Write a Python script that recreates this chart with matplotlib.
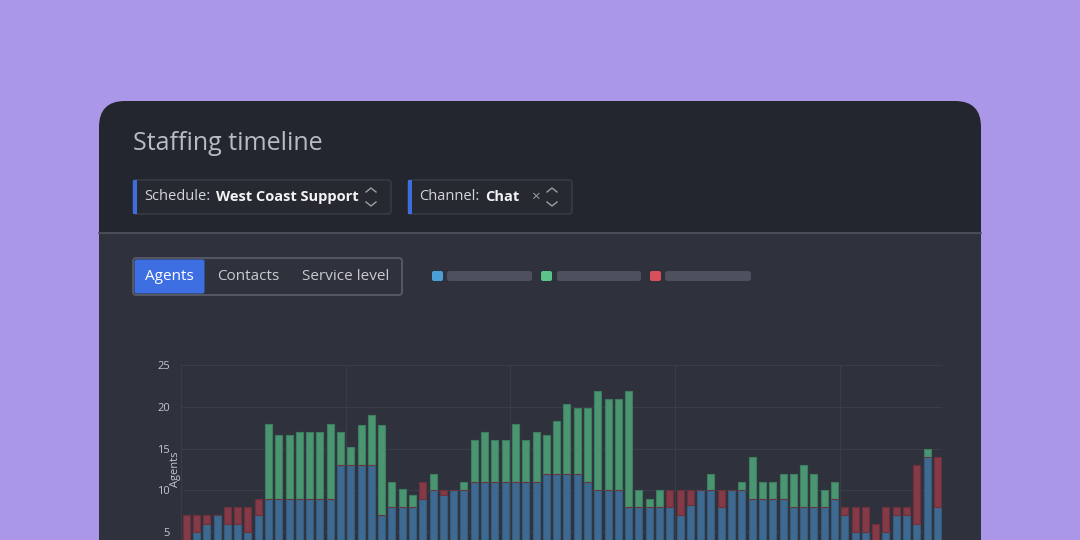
import matplotlib
matplotlib.use("Agg")
import matplotlib.pyplot as plt
from matplotlib.patches import FancyBboxPatch, Rectangle
import numpy as np

plt.rcParams['font.family'] = ['Open Sans', 'DejaVu Sans']

# ---- data ----
scheduled = [4, 5, 6, 7, 6, 6, 5, 7, 9, 9, 9, 9, 9, 9, 9, 13, 13, 13, 13, 7,
             8, 8, 8, 9, 10, 9.5, 10, 10, 11, 11, 11, 11, 11, 11, 11, 12, 12, 12, 12, 11,
             10, 10, 10, 8, 8, 8, 8, 8, 7, 8.3, 10, 10, 8, 10, 10, 9, 9, 9, 9, 8,
             8, 8, 8, 9, 7, 5, 5, 4, 5, 7, 7, 6, 14, 8]
surplus = [0, 0, 0, 0, 0, 0, 0, 0, 9, 7.6, 7.6, 8, 8, 8, 9, 4, 2.2, 4.8, 6, 10.8,
           3, 2.2, 1.4, 0, 2, 0, 0, 1, 5, 6, 5, 5, 7, 5, 6, 4.6, 6.3, 8.3, 7.9, 8.9,
           11.9, 10.9, 10.9, 13.9, 2, 1, 2, 0, 0, 0, 0, 2, 0, 0, 1, 5, 2, 2, 3, 4,
           5, 4, 2, 2, 0, 0, 0, 0, 0, 0, 0, 0, 0.9, 0]
shortage = [3, 2, 1, 0, 2, 2, 3, 2, 0, 0, 0, 0, 0, 0, 0, 0, 0, 0, 0, 0,
            0, 0, 0, 2, 0, 0.5, 0, 0, 0, 0, 0, 0, 0, 0, 0, 0, 0, 0, 0, 0,
            0, 0, 0, 0, 0, 0, 0, 2, 3, 1.7, 0, 0, 2, 0, 0, 0, 0, 0, 0, 0,
            0, 0, 0, 0, 1, 3, 3, 2, 3, 1, 1, 7, 0, 6]
yticks = [5, 10, 15, 20, 25]
tabs = ["Agents", "Contacts", "Service level"]

W, H = 1080, 540
fig = plt.figure(figsize=(10.8, 5.4), dpi=100)
fig.patch.set_facecolor('#ab97e8')

bg = fig.add_axes([0, 0, 1, 1])
bg.set_xlim(0, W); bg.set_ylim(H, 0); bg.axis('off')

# card
bg.add_patch(FancyBboxPatch((99, 101), 882, 560, boxstyle="round,pad=0,rounding_size=26",
                            fc='#23262e', ec='none'))
bg.add_patch(Rectangle((99, 233), 882, 400, fc='#2f323c', ec='none'))
bg.plot([99, 981], [233, 233], color='#50545e', lw=1.2)

bg.text(133, 144, "Staffing timeline", fontsize=18, color='#b8bbc4', va='center', ha='left')

def dropdown(x0, x1, label, value, close=False):
    bg.add_patch(FancyBboxPatch((x0, 180), x1 - x0, 34, boxstyle="round,pad=0,rounding_size=3",
                                fc='#262930', ec='#3b3e47', lw=1))
    bg.add_patch(Rectangle((x0, 180), 4, 34, fc='#3c6ee0', ec='none'))
    t = bg.text(x0 + 11, 197, label, fontsize=10.5, color='#d4d6dc', va='center')
    fig.canvas.draw()
    bb = t.get_window_extent()
    xe = bb.x1
    bg.text(xe + 6, 197, value, fontsize=10.5, color='#f2f3f5', va='center', fontweight='bold')
    cx = x1 - 20
    bg.plot([cx - 5, cx, cx + 5], [192, 188, 192], color='#9a9ea8', lw=1)
    bg.plot([cx - 5, cx, cx + 5], [202, 206, 202], color='#9a9ea8', lw=1)
    if close:
        bg.text(cx - 17, 197, "×", fontsize=11, color='#9a9ea8', va='center', ha='center')

dropdown(133, 391, "Schedule:", "West Coast Support")
dropdown(408, 572, "Channel:", "Chat", close=True)

# tabs
bg.add_patch(FancyBboxPatch((133, 258), 269, 37, boxstyle="round,pad=0,rounding_size=3",
                            fc='none', ec='#5b5f69', lw=1.2))
bg.add_patch(FancyBboxPatch((134.5, 259.5), 70, 34, boxstyle="round,pad=0,rounding_size=2",
                            fc='#3d6fe2', ec='none'))
for t, cx, c in zip(tabs, [169, 248, 346], ['#ffffff', '#c8cad0', '#c8cad0']):
    bg.text(cx, 276, t, fontsize=11, color=c, va='center', ha='center')

# legend placeholders
for sx, col, b0, b1 in [(432, '#4a9fd6', 447, 532), (541, '#5cc48a', 557, 641), (650, '#d9505c', 665, 751)]:
    bg.add_patch(FancyBboxPatch((sx, 271), 11, 10, boxstyle="round,pad=0,rounding_size=2", fc=col, ec='none'))
    bg.add_patch(FancyBboxPatch((b0, 271), b1 - b0, 10, boxstyle="round,pad=0,rounding_size=2.5", fc='#4e515d', ec='none'))

# chart axes
left, right, top, zero = 181, 942, 365, 574
ax = fig.add_axes([left / W, (H - zero) / H, (right - left) / W, (zero - top) / H])
ax.set_facecolor('none')
n = len(scheduled)
x = np.arange(n)
sch = np.array(scheduled); sur = np.array(surplus); sho = np.array(shortage)
ax.bar(x, sch, width=0.68, color='#3e6a92', edgecolor='#355a7c', lw=0.8, zorder=3)
ax.bar(x, sur, bottom=sch, width=0.68, color='#4b9672', edgecolor='#3d7d5f', lw=0.8, zorder=3)
ax.bar(x, sho, bottom=sch, width=0.68, color='#843a47', edgecolor='#6e313c', lw=0.8, zorder=3)
ax.set_xlim(-0.5, 73.45)
ax.set_ylim(0, 25)
ax.set_yticks(yticks)
ax.set_yticklabels([str(v) for v in yticks])
ax.tick_params(axis='y', length=0, labelsize=8, colors='#c4c7cf', pad=8)
ax.set_xticks([])
for v in yticks:
    ax.axhline(v, color='#3a3d47', lw=0.8, zorder=1)
for v in [15.5, 31.5, 47.5, 63.5]:
    ax.axvline(v, color='#3a3d47', lw=0.8, zorder=1)
for s in ['top', 'right', 'bottom']:
    ax.spines[s].set_visible(False)
ax.spines['left'].set_color('#3a3d47')
ax.set_ylabel("Agents", fontsize=8, color='#c4c7cf', labelpad=10)
ax.yaxis.set_label_coords(-0.05, 0.5)
ax.yaxis.label.set_position((0, 0.5))

fig.savefig("out.png", dpi=100, facecolor=fig.get_facecolor())
